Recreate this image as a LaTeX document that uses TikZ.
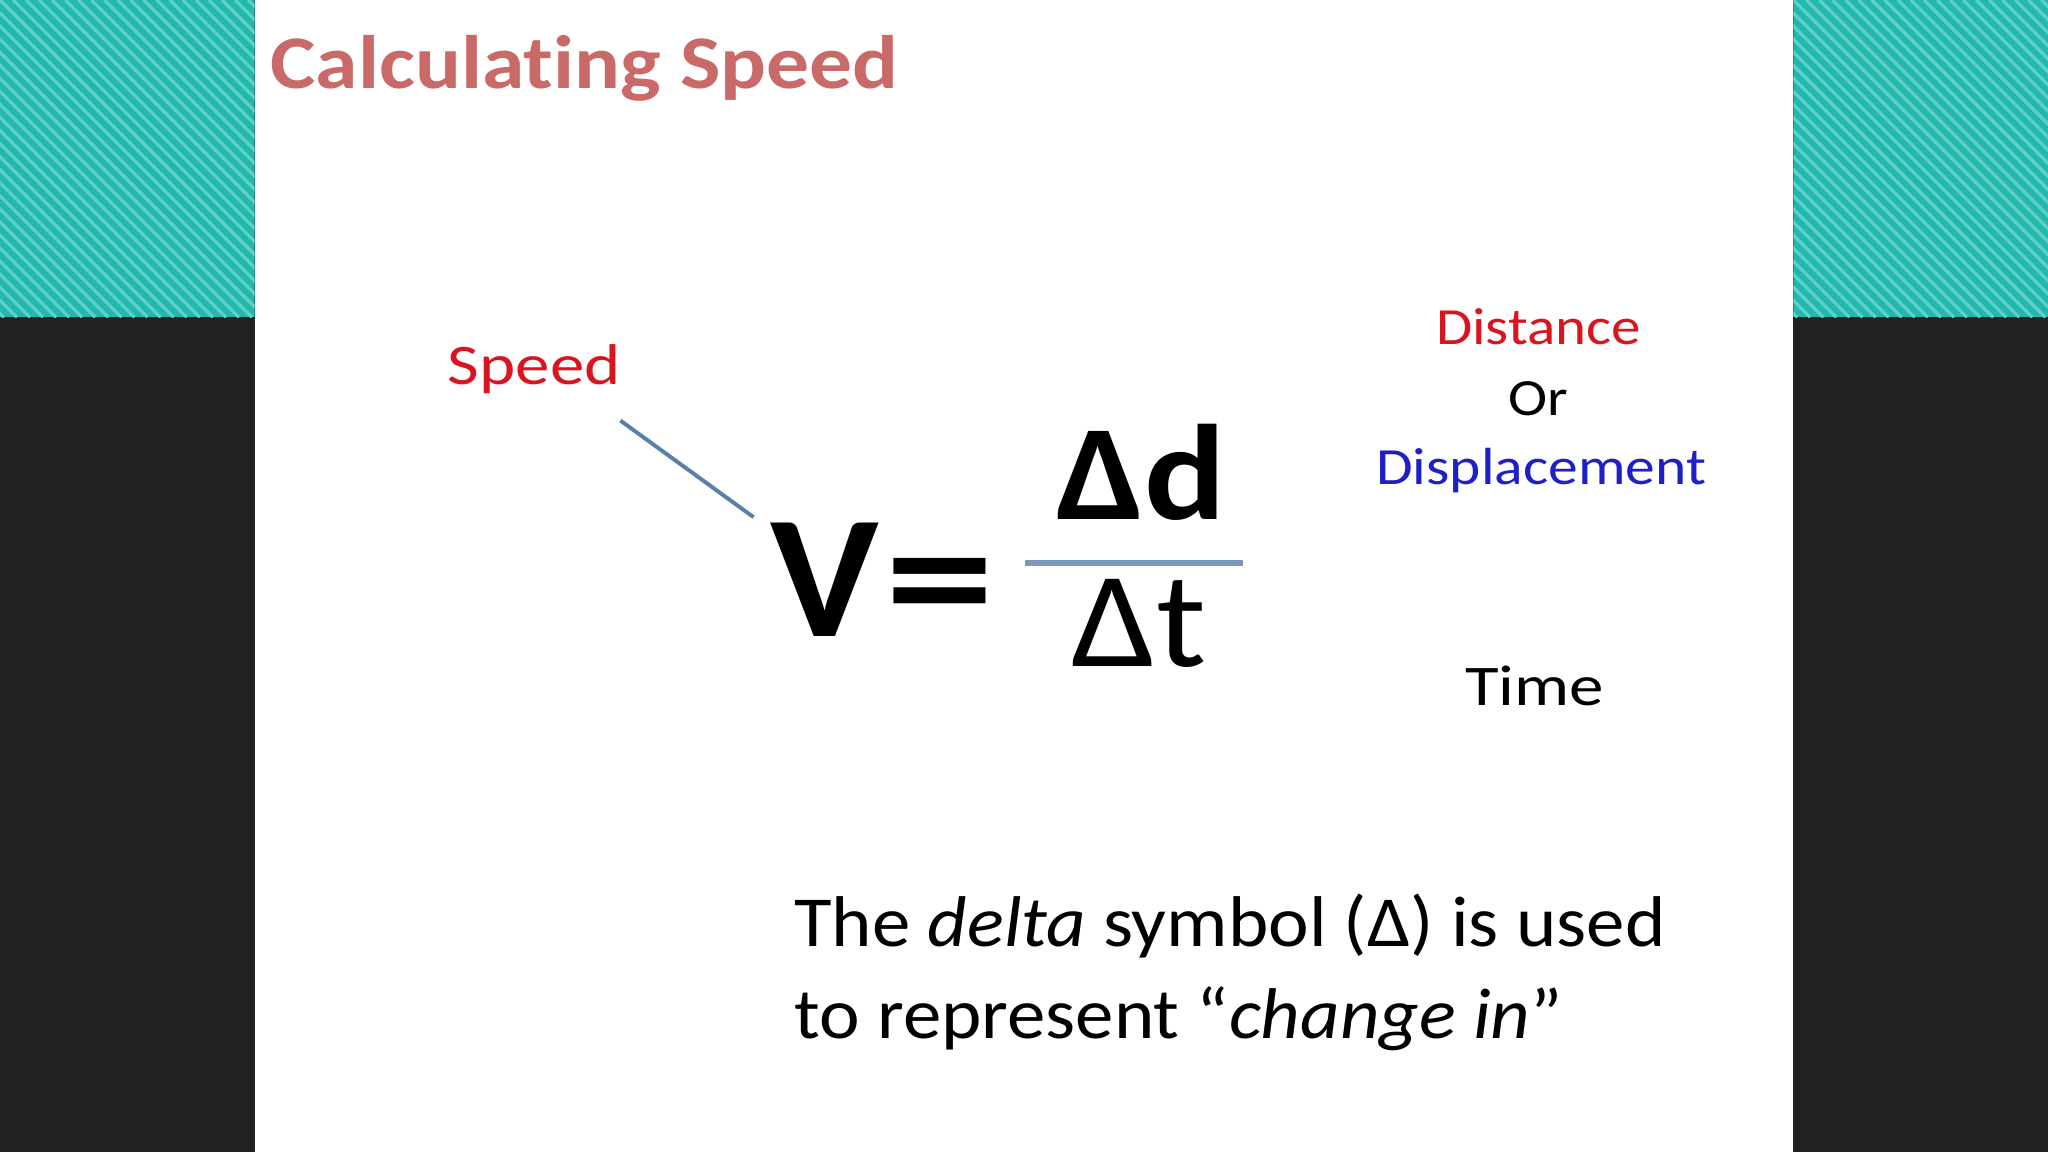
\documentclass[tikz,border=0pt]{standalone}
\usepackage{fontspec}
\usepackage{graphicx}
\setmainfont{Carlito}[Ligatures=NoCommon]
\begin{document}
\begin{tikzpicture}[x=1pt,y=-1pt,
  lbl/.style={inner sep=0pt,anchor=center},
  fs/.style={font=\fontsize{#1}{#1}\selectfont}]
\newcommand{\sx}[2]{\scalebox{#1}[1]{#2}}
\definecolor{teal1}{HTML}{22B8AE}
\definecolor{teal2}{HTML}{5ED0C6}
\definecolor{darkbg}{HTML}{222124}
\definecolor{titlered}{HTML}{C0504D}
\definecolor{spred}{HTML}{D9141E}
\definecolor{dispblue}{HTML}{1F1FC8}
\definecolor{linecol}{HTML}{5A7FA8}
\useasboundingbox (0,0) rectangle (1568,882);
\fill[darkbg] (0,0) rectangle (1568,882);
\foreach \xa/\xb in {0/195,1373/1568}{
  \begin{scope}
  \clip (\xa,0) rectangle (\xb,243);
  \fill[teal1] (\xa,0) rectangle (\xb,243);
  \foreach \k in {-300,-290,...,500}
    \draw[teal2,line width=2.5] (\xa+\k,0) -- (\xa+\k+243,243);
  \end{scope}}
\fill[white] (195,0) rectangle (1373,882);
\node[lbl,anchor=base west,fs=58,text=titlered!85] (title) at (207,68) {\sx{1.13}{\bfseries Calculating Speed}};
\node[lbl,fs=44,text=spred] (speed) at (409,283) {\sx{1.2}{Speed}};
\node[lbl,anchor=base west,fs=134] (v) at (590,487) {\sx{1.05}{\bfseries V}};
\node[lbl,anchor=base,fs=134] (eq) at (720,487) {\sx{1.25}{\bfseries =}};
\coordinate (s1) at (475,322);
\coordinate (s2) at (577,396);
\draw[linecol,line width=3] (s1) -- (s2);
\node[lbl,anchor=base,fs=104] (dd) at (874,398) {\sx{1.12}{\bfseries Δd}};
\node[lbl,anchor=base,fs=104] (dt) at (872,510) {\sx{1.1}{Δt}};
\coordinate (f1) at (785,431);
\coordinate (f2) at (952,431);
\draw[linecol!80,line width=4] (f1) -- (f2);
\node[lbl,fs=40,text=spred] (dist) at (1178,250) {\sx{1.13}{Distance}};
\node[lbl,fs=40] (or) at (1178,305) {\sx{1.13}{Or}};
\node[lbl,fs=40,text=dispblue] (disp) at (1180,360) {\sx{1.14}{Displacement}};
\node[lbl,fs=44] (time) at (1175,525) {\sx{1.2}{Time}};
\node[lbl,anchor=base west,fs=55] (t1) at (608,725) {\sx{1.07}{The \textit{delta} symbol (Δ) is used}};
\node[lbl,anchor=base west,fs=55] (t2) at (608,795) {\sx{1.07}{to represent “\textit{change in}”}};
\end{tikzpicture}
\end{document}
